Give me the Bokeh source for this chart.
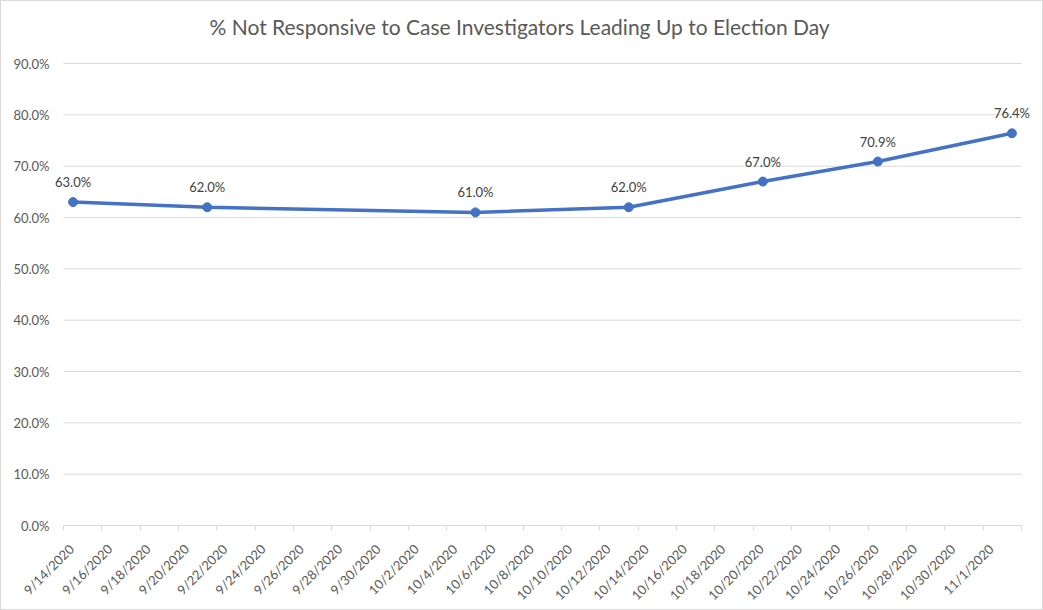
from datetime import datetime, timedelta
from bokeh.plotting import figure
from bokeh.models import (Range1d, FixedTicker, CustomJSTickFormatter, PrintfTickFormatter,
                          ColumnDataSource, Label, Title)
from bokeh.embed import file_html
from bokeh.resources import INLINE

# ---- data ----
dates = ["2020-09-14", "2020-09-21", "2020-10-05", "2020-10-13",
         "2020-10-20", "2020-10-26", "2020-11-02"]
values = [63.0, 62.0, 61.0, 62.0, 67.0, 70.9, 76.4]
labels = ["63.0%", "62.0%", "61.0%", "62.0%", "67.0%", "70.9%", "76.4%"]
axis_start = "2020-09-14"
axis_end = "2020-11-03"
last_label_date = "2020-11-01"
y_ticks = [0, 10, 20, 30, 40, 50, 60, 70, 80, 90]
title_text = "% Not Responsive to Case Investigators Leading Up to Election Day"

FONT = "Lato"
DAY = timedelta(days=1)
start = datetime.fromisoformat(axis_start)
end = datetime.fromisoformat(axis_end)
y_max = y_ticks[-1]
# points sit in the middle of each day slot (between tick marks)
xs = [datetime.fromisoformat(d) + DAY / 2 for d in dates]

def to_ms(d):
    return (d - datetime(1970, 1, 1)).total_seconds() * 1000

src = ColumnDataSource(dict(x=xs, y=values))

# frame is a little larger than the axes so end labels are not clipped
p = figure(width=1043, height=610, x_axis_type="datetime",
           x_range=Range1d(start - DAY * 0.522, end + DAY * 0.678),
           y_range=Range1d(0, y_max * 1.0325),
           output_backend="svg", toolbar_location=None,
           min_border_left=52, min_border_right=10, min_border_top=47, min_border_bottom=86)
p.outline_line_color = None
p.background_fill_color = "white"
p.border_fill_color = "white"
p.styles = {"border": "1px solid #d9d9d9", "box-sizing": "border-box"}

t = Title(text=title_text, align="left", text_font=FONT, text_font_size="21px",
          text_color="#595959", text_font_style="normal", offset=156, standoff=20)
p.add_layout(t, "above")

tick_dates = []
d = start
while d <= datetime.fromisoformat(last_label_date):
    tick_dates.append(d)
    d += DAY * 2
label_shift = timedelta(hours=10)
p.xaxis.bounds = (to_ms(start), to_ms(end))
p.xaxis.ticker = FixedTicker(ticks=[to_ms(d + label_shift) for d in tick_dates],
                             minor_ticks=[to_ms(d) for d in tick_dates] + [to_ms(end)])
p.xaxis.formatter = CustomJSTickFormatter(code="""
const d = new Date(tick);
return (d.getUTCMonth()+1) + "/" + d.getUTCDate() + "/" + d.getUTCFullYear();
""")
p.xaxis.major_label_orientation = 0.785398
p.xaxis.axis_line_color = "#d9d9d9"
p.xaxis.major_tick_line_color = None
p.xaxis.minor_tick_line_color = "#d9d9d9"
p.xaxis.major_tick_out = 5
p.xaxis.major_tick_in = 0
p.xaxis.minor_tick_out = 5
p.xaxis.minor_tick_in = 0
p.xaxis.major_label_text_font = FONT
p.xaxis.major_label_text_font_size = "13px"
p.xaxis.major_label_text_color = "#595959"
p.xaxis.major_label_standoff = 16

p.yaxis.bounds = (0, y_max)
p.yaxis.ticker = FixedTicker(ticks=y_ticks)
p.yaxis.formatter = PrintfTickFormatter(format="%.1f%%")
p.yaxis.axis_line_color = None
p.yaxis.major_tick_line_color = None
p.yaxis.minor_tick_line_color = None
p.yaxis.major_tick_out = 0
p.yaxis.major_tick_in = 0
p.yaxis.minor_tick_out = 0
p.yaxis.minor_tick_in = 0
p.yaxis.major_label_text_font = FONT
p.yaxis.major_label_text_font_size = "13px"
p.yaxis.major_label_text_color = "#595959"
p.yaxis.major_label_standoff = 4

p.xgrid.grid_line_color = None
p.ygrid.grid_line_color = None
# horizontal gridlines limited to the axis span
p.segment(x0=[start] * len(y_ticks), x1=[end] * len(y_ticks), y0=y_ticks, y1=y_ticks,
          line_color="#d9d9d9", line_width=1)

p.line("x", "y", source=src, line_color="#4472c4", line_width=3.5)
p.scatter("x", "y", source=src, size=9, fill_color="#4472c4", line_color="#4472c4")

for xi, yi, lab in zip(xs, values, labels):
    p.add_layout(Label(x=to_ms(xi), y=yi, text=lab, text_align="center",
                       text_baseline="middle", y_offset=20, text_font=FONT,
                       text_font_size="13px", text_color="#404040"))

open("out.html", "w").write(file_html(p, INLINE))
